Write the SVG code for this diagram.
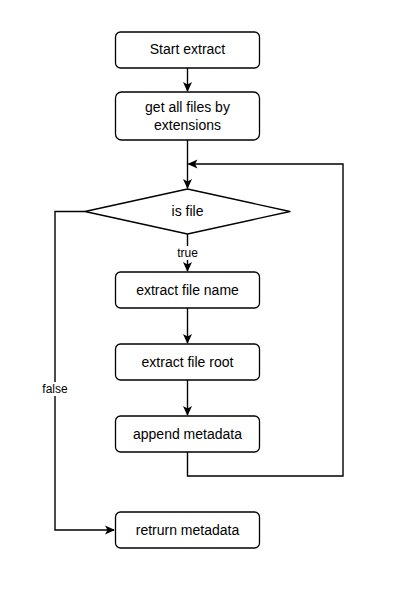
<svg xmlns="http://www.w3.org/2000/svg" width="415" height="603" viewBox="0 0 415 603">
<style>
.n{fill:#fff;stroke:#000;stroke-width:1.3}
.t{font-family:"Liberation Sans",Arial,sans-serif;font-size:14px;fill:#000;text-anchor:middle;dominant-baseline:central}
.lb{font-family:"Liberation Sans",Arial,sans-serif;font-size:12px;fill:#000;text-anchor:middle;dominant-baseline:central}
.e{fill:none;stroke:#000;stroke-width:1.4}
</style>
<defs>
<marker id="a" viewBox="0 0 10 10" refX="9" refY="5" markerWidth="10" markerHeight="10" markerUnits="userSpaceOnUse" orient="auto">
<path d="M0,0.5 L10,5 L0,9.5 L2.5,5 Z" fill="#000"/>
</marker>
</defs>
<rect width="415" height="603" fill="#fff"/>
<g id="edges">
<path class="e" d="M187.5,68 V91" marker-end="url(#a)"/>
<path class="e" d="M187.5,140 V188" marker-end="url(#a)"/>
<path class="e" d="M187.5,234 V271" marker-end="url(#a)"/>
<path class="e" d="M187.5,308 V343" marker-end="url(#a)"/>
<path class="e" d="M187.5,380 V415" marker-end="url(#a)"/>
<path class="e" d="M187.5,452 V476 H343 V164 H188.5" marker-end="url(#a)"/>
<path class="e" d="M85,211.5 H55 V530 H114" marker-end="url(#a)"/>
<rect x="174" y="246" width="27" height="14" fill="#fff"/>
<text class="lb" x="187.5" y="253">true</text>
<rect x="39" y="382" width="32" height="14" fill="#fff"/>
<text class="lb" x="55" y="389">false</text>
</g>
<g id="start"><rect class="n" x="115.5" y="32" width="144" height="36" rx="5"/><text class="t" x="187.5" y="49">Start extract</text></g>
<g id="getfiles"><rect class="n" x="115.5" y="92" width="144" height="48" rx="6"/><text class="t" x="187.5" y="107">get all files by</text><text class="t" x="187.5" y="125">extensions</text></g>
<g id="isfile"><path class="n" d="M187.5,189 L290,211.5 L187.5,234 L85,211.5 Z" stroke-linejoin="round"/><text class="t" x="187.5" y="211">is file</text></g>
<g id="name"><rect class="n" x="115.5" y="272" width="144" height="36" rx="5"/><text class="t" x="187.5" y="289.5">extract file name</text></g>
<g id="root"><rect class="n" x="115.5" y="344" width="144" height="36" rx="5"/><text class="t" x="187.5" y="361.5">extract file root</text></g>
<g id="append"><rect class="n" x="115.5" y="416" width="144" height="36" rx="5"/><text class="t" x="187.5" y="433.5">append metadata</text></g>
<g id="return"><rect class="n" x="115.5" y="512" width="144" height="36" rx="5"/><text class="t" x="187.5" y="529.5">retrurn metadata</text></g>
</svg>
